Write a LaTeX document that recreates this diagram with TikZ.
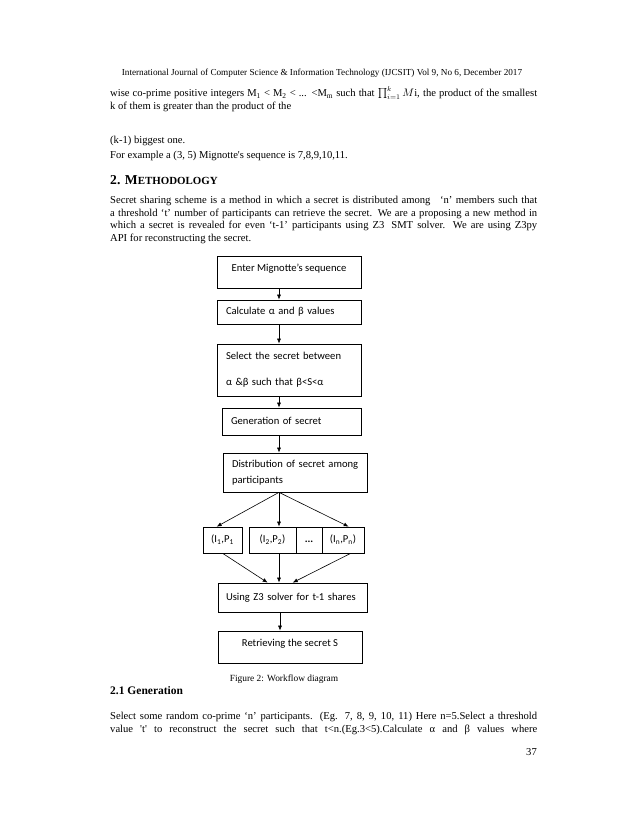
\documentclass[tikz,border=0pt]{standalone}
\usepackage{fontspec}
\setmainfont{Liberation Serif}
\newfontfamily\dfam{Carlito}
\newcommand{\dfont}{\dfam\fontsize{10.6}{13}\selectfont}
\usetikzlibrary{arrows.meta,calc}
\begin{document}
\begin{tikzpicture}[x=1pt,y=-1pt,
  every node/.style={inner sep=0pt},
  body/.style={anchor=base west, font=\fontsize{10.6}{12.7}\selectfont},
  frame/.style={draw, line width=0.7pt, font=\dfont, inner xsep=0pt, inner ysep=0pt},
  one/.style={frame, text height=7.5pt, text depth=2.5pt},
  hi/.style={text depth=8.5pt},
  arr/.style={line width=0.6pt, -{Latex[length=5pt,width=4pt]}}
]
\fill[white] (0,0) rectangle (638,826);
\useasboundingbox (0,0) rectangle (638,826);

% header
\node[anchor=base, font=\fontsize{9.2}{11}\selectfont] (hdr) at (322,76) {International Journal of Computer Science \& Information Technology (IJCSIT) Vol 9, No 6, December 2017};

% text before heading
\node[body] (l1) at (110,96.5) {\makebox[427pt][s]{wise co-prime positive integers M\textsubscript{1} < M\textsubscript{2} < ... <M\textsubscript{m} such that $\prod_{i=1}^{k} M$i, the product of the smallest}};
\node[body] (l2) at (110,109.5) {k of them is greater than the product of the};
\node[body] (l3) at (110,143.5) {(k-1) biggest one.};
\node[body] (l4) at (110,158.5) {For example a (3, 5) Mignotte\textquotesingle s sequence is 7,8,9,10,11.};

\node[body, font=\bfseries\fontsize{13.6}{15}\selectfont] (h2) at (110,184.5) {2. M{\fontsize{10.9}{12}\selectfont ETHODOLOGY}};

\node[body] (p1) at (110,203.5) {\makebox[427pt][s]{Secret sharing scheme is a method in which a secret is distributed among\hspace{6pt} ‘n’ members such that}};
\node[body] (p2) at (110,216.2) {\makebox[427pt][s]{a threshold ‘t’ number of participants can retrieve the secret. We are a proposing a new method in}};
\node[body] (p3) at (110,228.9) {\makebox[427pt][s]{which a secret is revealed for even ‘t-1’ participants using Z3\hspace{3pt} SMT solver. We are using Z3py}};
\node[body] (p4) at (110,241.6) {API for reconstructing the secret.};

% diagram
\node[one, hi, minimum width=144pt, minimum height=32pt] (b1) at (289,272) {Enter Mignotte’s sequence};
\node[one, inner xsep=9pt, text width=126pt, align=left, minimum height=24pt] (b2) at (289,312) {Calculate α and β values};
\node[frame, inner xsep=9pt, text width=126pt, align=left, minimum height=52pt] (b3) at (289,370) {Select the secret between\\[13pt]α \&β such that β<S<α};
\node[one, inner xsep=9pt, text width=121pt, align=left, minimum height=27pt] (b4) at (291.5,421.5) {Generation of secret};
\node[frame, inner xsep=9pt, text width=126pt, align=left, minimum height=39pt] (b5) at (295,472.5) {\mbox{Distribution of secret among}\\[3pt]participants};

\node[one, minimum width=39pt, minimum height=26pt] (r1) at (222.5,540) {(I\textsubscript{1},P\textsubscript{1}};
\node[one, minimum width=47pt, minimum height=26pt] (r2) at (272.5,540) {(I\textsubscript{2},P\textsubscript{2})};
\node[one, minimum width=26pt, minimum height=26pt] (r3) at (309,540) {\textbf{...}};
\node[one, minimum width=42pt, minimum height=26pt] (r4) at (343,540) {(I\textsubscript{n},P\textsubscript{n})};

\node[one, inner xsep=8pt, text width=133pt, align=left, minimum height=29pt] (b6) at (292.5,597.5) {Using Z3 solver for t-1 shares};
\node[one, hi, minimum width=144pt, minimum height=32pt] (b7) at (290,647) {Retrieving the secret S};

\coordinate (ax) at (279,0);
\coordinate (bx) at (280,0);
\draw[arr] (b1.south -| ax) -- (b2.north -| ax);
\draw[arr] (b2.south -| ax) -- (b3.north -| ax);
\draw[arr] (b3.south -| ax) -- (b4.north -| ax);
\draw[arr] (b4.south -| ax) -- (b5.north -| ax);
\draw[arr] (b5.south -| ax) -- ($(r1.north west)+(14,0)$);
\draw[arr] (b5.south -| ax) -- (r2.north -| ax);
\draw[arr] (b5.south -| ax) -- ($(r4.north west)+(27,0)$);
\draw[arr] ($(r1.south west)+(20,0)$) -- ($(b6.north west)+(50,0)$);
\draw[arr] (r2.south -| ax) -- (b6.north -| ax);
\draw[arr] ($(r4.south west)+(29,0)$) -- ($(b6.north west)+(75,0)$);
\draw[arr] (b6.south -| bx) -- (b7.north -| bx);

\node[anchor=base, font=\fontsize{9.4}{11}\selectfont] (cap) at (284,681) {Figure 2: Workflow diagram};

\node[body, font=\bfseries\fontsize{11.5}{14}\selectfont] (h21) at (110,694) {2.1 Generation};
\node[body] (q1) at (110,719.5) {\makebox[427pt][s]{Select some random co-prime ‘n’ participants. (Eg. 7, 8, 9, 10, 11) Here n=5.Select a threshold}};
\node[body] (q2) at (110,732.5) {\makebox[427pt][s]{value \textquotesingle t\textquotesingle{} to reconstruct the secret such that t<n.(Eg.3<5).Calculate α and β values where}};
\node[anchor=base east, font=\fontsize{10.6}{12}\selectfont] (pg) at (537,755.5) {37};
\end{tikzpicture}
\end{document}
